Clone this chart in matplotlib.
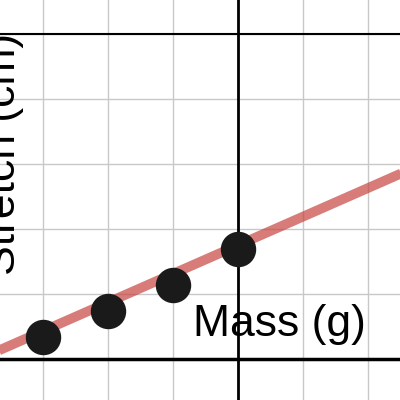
import matplotlib.pyplot as plt
import numpy as np

plt.rcParams['font.family'] = ['Liberation Sans', 'DejaVu Sans']

mass = [-3, -2, -1, 0]
stretch = [0.34, 0.74, 1.14, 1.69]
slope = 0.44
intercept = 1.75

fig = plt.figure(figsize=(4, 4), dpi=100)
ax = fig.add_axes([0, 0, 1, 1])
ax.set_xlim(-3.66, 2.49)
ax.set_ylim(-0.63, 5.52)
ax.axis('off')

# grid
for gx in range(-3, 3):
    ax.axvline(gx, color='#c8c8c8', lw=1, zorder=0)
for gy in range(0, 6):
    ax.axhline(gy, color='#c8c8c8', lw=1, zorder=0)
ax.axvline(0, color='black', lw=2, zorder=1)
ax.axhline(0, color='black', lw=2.5, zorder=1)
ax.axhline(5, color='black', lw=1.5, zorder=1)

xs = np.array([-3.7, 2.6])
ax.plot(xs, slope * xs + intercept, color='#c74440', alpha=0.7, lw=7, zorder=2,
        solid_capstyle='butt')
ax.scatter(mass, stretch, s=600, color='#1a1a1a', zorder=3)

ax.text(0.63, 0.53, 'Mass (g)', fontsize=32, ha='center', va='center', zorder=4)
ax.text(-3.6, 1.29, 'Stretch (cm)', fontsize=32, rotation=90, ha='center',
        va='bottom', zorder=4)

fig.savefig('out.png', dpi=100)
